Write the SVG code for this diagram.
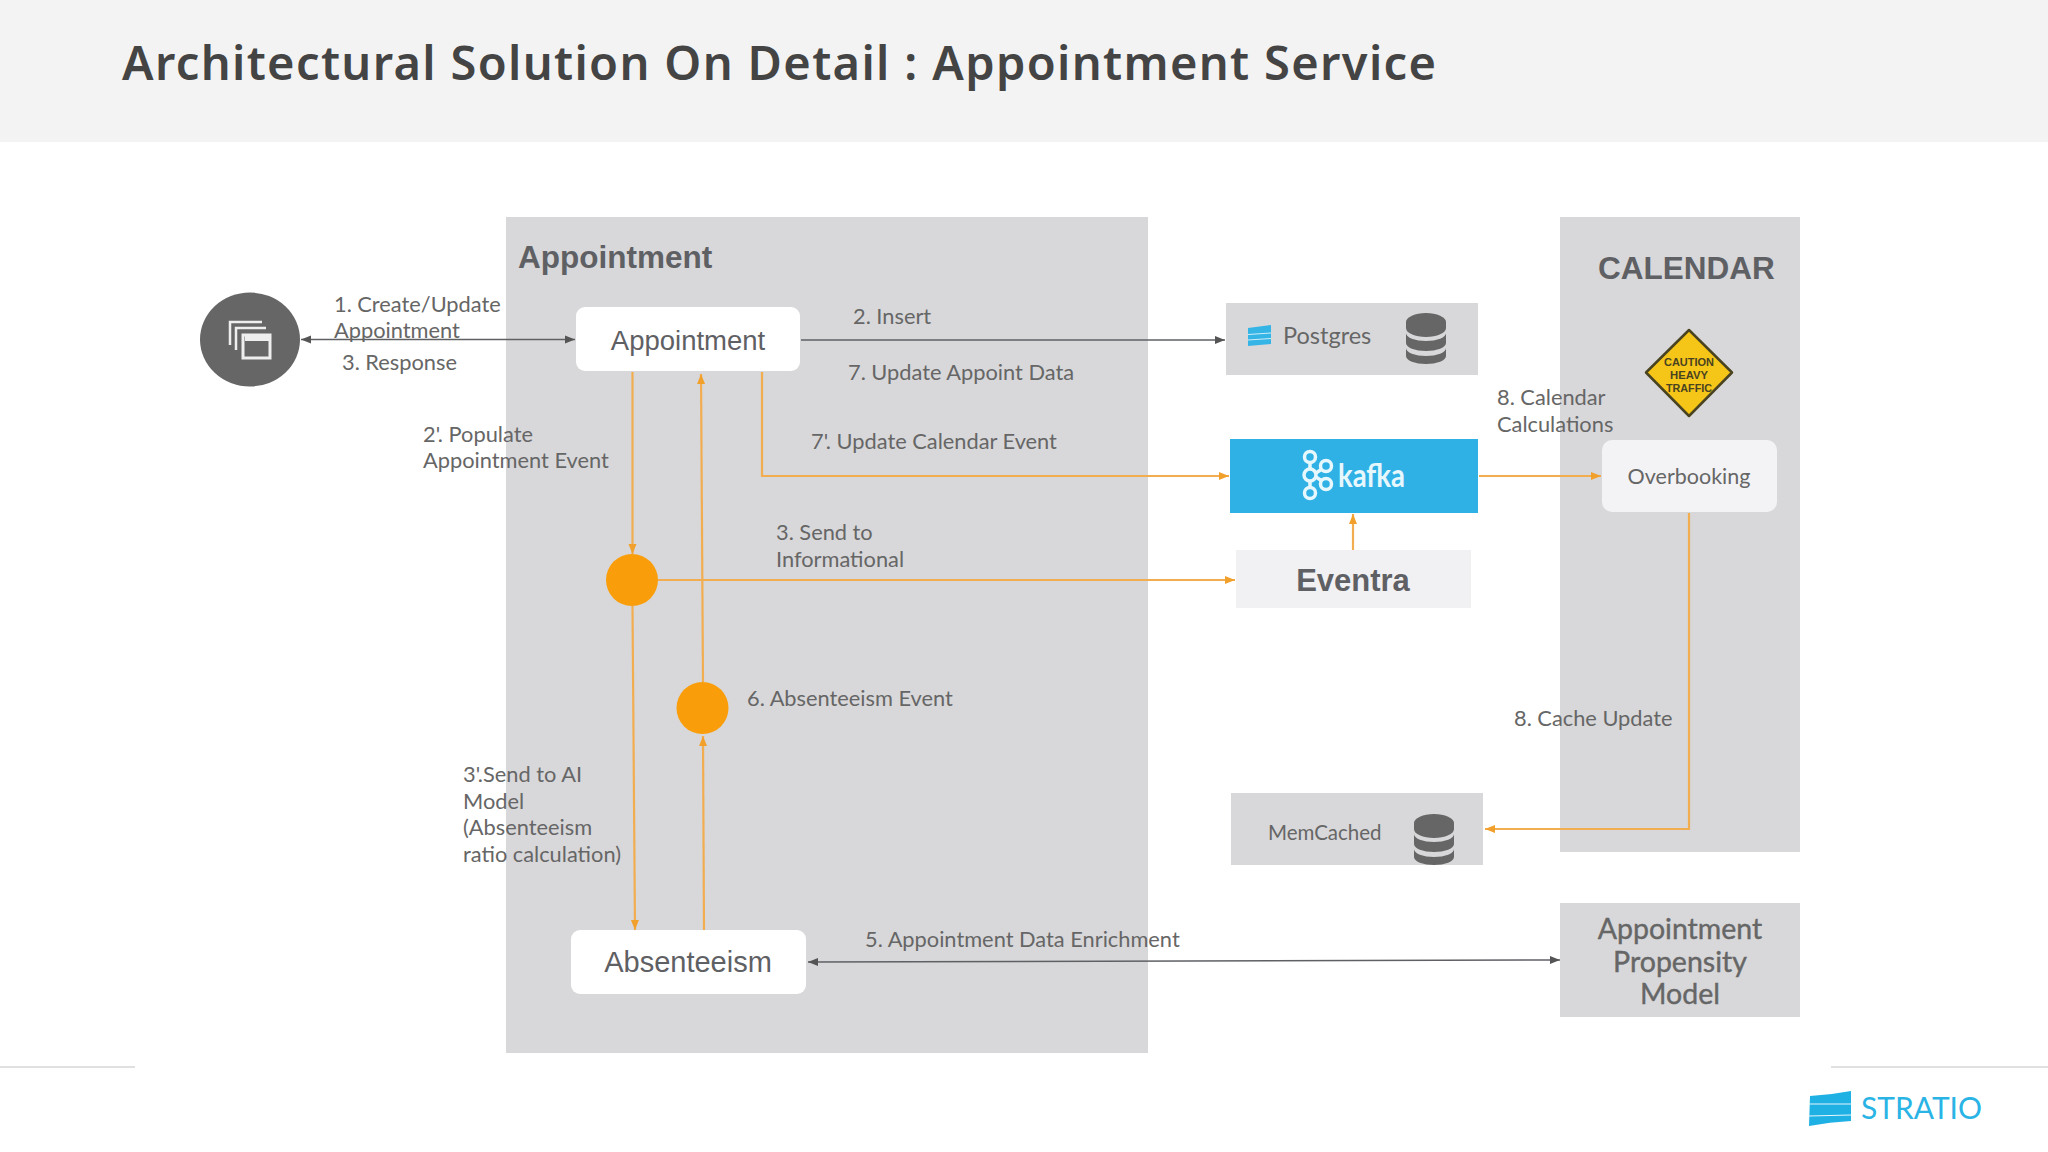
<svg xmlns="http://www.w3.org/2000/svg" width="2048" height="1152" viewBox="0 0 2048 1152">
<defs>
<style>
.lb{font-family:"Lato","Noto Sans",sans-serif;font-size:21.800px;fill:#666}
.ar{font-family:"Liberation Sans",Arial,sans-serif;fill:#5f6064}
.b{font-weight:700}
.panel{fill:#d8d8da}
.lt{fill:#f1f1f3}
.or{fill:none;stroke:#f2ad50;stroke-width:2.2}
.gr{fill:none;stroke:#5f6064;stroke-width:1.500}
.db{fill:#666}
</style>
<marker id="ao" markerUnits="userSpaceOnUse" markerWidth="11" markerHeight="10" refX="10" refY="5" orient="auto-start-reverse"><path d="M0 1 L10 5 L0 9 Z" fill="#f2a02c"/></marker>
<marker id="ag" markerUnits="userSpaceOnUse" markerWidth="11" markerHeight="10" refX="10" refY="5" orient="auto-start-reverse"><path d="M0 1 L10 5 L0 9 Z" fill="#555"/></marker>
<g id="dbicon"><path class="db" d="M-20 -18 A20 9 0 0 1 20 -18 L20 -12 A20 9 0 0 1 -20 -12Z"/><path class="db" d="M-20 -7 A20 8 0 0 0 20 -7 L20 3 A20 8 0 0 1 -20 3Z"/><path class="db" d="M-20 8 A20 8 0 0 0 20 8 L20 16 A20 8 0 0 1 -20 16Z"/></g>
</defs>
<rect width="2048" height="1152" fill="#fff"/>
<g id="header"><rect width="2048" height="142" fill="#f3f3f3"/>
<text x="122" y="80" font-family="Noto Sans, sans-serif" font-weight="600" font-size="47" fill="#444" textLength="1314" lengthAdjust="spacing">Architectural Solution On Detail : Appointment Service</text></g>
<path d="M0 1067H135M1831 1067H2048" stroke="#d6d6d8" stroke-width="1.500" fill="none"/>

<g id="appointment-panel"><rect class="panel" x="506" y="217" width="642" height="836"/>
<text class="ar b" x="518" y="268" font-size="31.500">Appointment</text></g>
<g id="calendar-panel"><rect class="panel" x="1560" y="217" width="240" height="635"/>
<text class="ar b" x="1598" y="279" font-size="31.500">CALENDAR</text></g>

<g id="connectors">
<path class="gr" d="M301 339.500H575" marker-start="url(#ag)" marker-end="url(#ag)"/>
<path class="gr" d="M801 340H1225" marker-end="url(#ag)"/>
<path class="or" d="M632.500 372V554" marker-end="url(#ao)"/>
<path class="or" d="M632.500 606L635 930" marker-end="url(#ao)"/>
<path class="or" d="M703 682L701 374" marker-end="url(#ao)"/>
<path class="or" d="M704 930L703 736" marker-end="url(#ao)"/>
<path class="or" d="M762 372V476H1229" marker-end="url(#ao)"/>
<path class="or" d="M658 580H1235" marker-end="url(#ao)"/>
<path class="or" d="M1479 476H1601" marker-end="url(#ao)"/>
<path class="or" d="M1353 550V514" marker-end="url(#ao)"/>
<path class="or" d="M1689 513V829H1485" marker-end="url(#ao)"/>
<path class="gr" d="M808 962L1560 960" marker-start="url(#ag)" marker-end="url(#ag)"/>
</g>

<g id="client"><ellipse cx="250" cy="339.500" rx="50" ry="47" fill="#666"/>
<g fill="none" stroke="#eee" stroke-width="2.500"><path d="M230 345V322H262"/><path d="M236 350V328H266"/></g>
<rect x="243" y="335" width="27" height="23" fill="#666" stroke="#eee" stroke-width="3"/><rect x="245" y="336" width="24" height="5" fill="#eee"/></g>

<g id="appointment"><rect x="576" y="307" width="224" height="64" rx="9" fill="#fff"/>
<text class="ar" x="688" y="350" font-size="27.500" text-anchor="middle">Appointment</text></g>
<g id="absenteeism"><rect x="571" y="930" width="235" height="64" rx="9" fill="#fff"/>
<text class="ar" x="688" y="972" font-size="29" text-anchor="middle">Absenteeism</text></g>
<g id="junction-1"><circle cx="632" cy="580" r="26" fill="#f99d0a"/></g>
<g id="junction-2"><circle cx="702.500" cy="708" r="26" fill="#f99d0a"/></g>

<g id="postgres"><rect class="panel" x="1226" y="303" width="252" height="72"/>
<path d="M1248 328L1271 325V344L1248 346Z" fill="#35b4e6"/><path d="M1248 334.500L1271 333M1248 340L1271 338.500" stroke="#cdeefa" stroke-width="1"/>
<text class="lb" x="1283" y="344" style="font-size:23.500px">Postgres</text>
<use href="#dbicon" x="1426" y="340"/></g>
<g id="kafka"><rect x="1230" y="439" width="248" height="74" fill="#2fb1e6"/>
<g fill="none" stroke="#e6f7fd" stroke-width="3.500"><circle cx="1310" cy="457" r="5.500"/><circle cx="1310" cy="475" r="6"/><circle cx="1310" cy="493" r="5.500"/><circle cx="1326" cy="466" r="5.500"/><circle cx="1326" cy="484" r="5.500"/><path d="M1310 462V470M1310 480V488M1316 473L1322 469M1316 477L1322 481"/></g>
<text x="1338" y="487" font-family="Lato, sans-serif" font-weight="700" font-size="33" fill="#e6f7fd" textLength="67" lengthAdjust="spacingAndGlyphs">kafka</text></g>
<g id="eventra"><rect class="lt" x="1236" y="550" width="235" height="58"/>
<text class="ar b" x="1353" y="591" font-size="31" text-anchor="middle">Eventra</text></g>
<g id="caution-sign"><path d="M1689 330L1732 372.500L1689 416L1646 372.500Z" fill="#f5c518" stroke="#4a4320" stroke-width="2.500" stroke-linejoin="round"/>
<g font-family="Liberation Sans, sans-serif" font-weight="700" font-size="11" fill="#4a4320" text-anchor="middle"><text x="1689" y="366" textLength="50" lengthAdjust="spacingAndGlyphs">CAUTION</text><text x="1689" y="379" textLength="38" lengthAdjust="spacingAndGlyphs">HEAVY</text><text x="1689" y="392" textLength="46" lengthAdjust="spacingAndGlyphs">TRAFFIC</text></g></g>
<g id="overbooking"><rect x="1602" y="440" width="175" height="72" rx="10" fill="#f3f3f5"/>
<text class="lb" x="1689" y="484" text-anchor="middle" style="font-size:21.500px">Overbooking</text></g>
<g id="memcached"><rect class="panel" x="1231" y="793" width="252" height="72"/>
<text class="lb" x="1268" y="840" style="font-size:20.500px">MemCached</text>
<use href="#dbicon" x="1434" y="841"/></g>
<g id="propensity"><rect class="panel" x="1560" y="903" width="240" height="114"/>
<g class="lb" text-anchor="middle" style="font-size:28.500px;stroke:#666;stroke-width:.4"><text x="1680" y="939">Appointment</text><text x="1680" y="972">Propensity</text><text x="1680" y="1004">Model</text></g></g>

<g id="labels" class="lb">
<text x="334" y="312">1. Create/Update</text><text x="334" y="338">Appointment</text>
<text x="342" y="370">3. Response</text>
<text x="423" y="442">2'. Populate</text><text x="423" y="468">Appointment Event</text>
<text x="853" y="324">2. Insert</text>
<text x="848" y="380">7. Update Appoint Data</text>
<text x="811" y="449">7'. Update Calendar Event</text>
<text x="776" y="540">3. Send to</text><text x="776" y="567">Informational</text>
<text x="747" y="706">6. Absenteeism Event</text>
<text x="463" y="782">3'.Send to AI</text><text x="463" y="809">Model</text><text x="463" y="835">(Absenteeism</text><text x="463" y="862">ratio calculation)</text>
<text x="865" y="947">5. Appointment Data Enrichment</text>
<text x="1497" y="405">8. Calendar</text><text x="1497" y="432">Calculations</text>
<text x="1514" y="726">8. Cache Update</text>
</g>

<g id="stratio"><path d="M1810 1096Q1830 1095 1851 1091L1851 1121Q1830 1122 1809 1126Z" fill="#1fb0e4"/>
<path d="M1809 1104L1851 1104M1809 1116L1851 1115" stroke="#e4f6fc" stroke-width="1.200" fill="none"/>
<text x="1861" y="1119" font-family="Lato, sans-serif" font-size="31" fill="#2ab4e6" textLength="121" lengthAdjust="spacingAndGlyphs">STRATIO</text></g>
</svg>
